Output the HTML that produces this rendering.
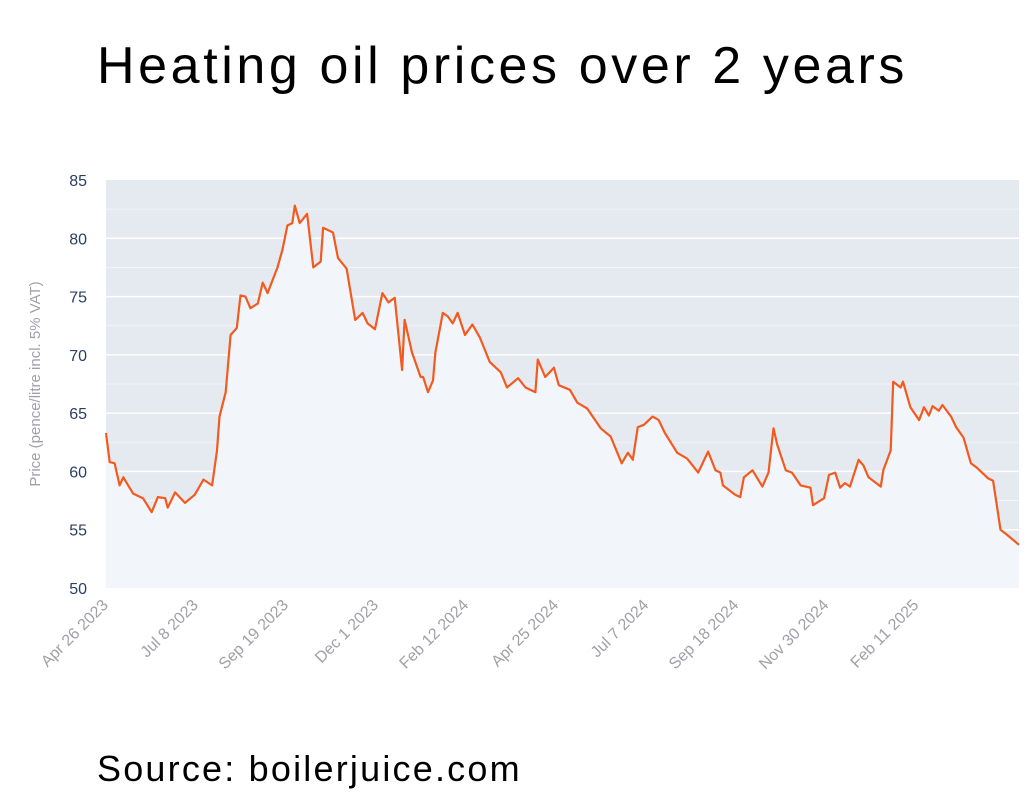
<!DOCTYPE html>
<html><head><meta charset="utf-8"><style>
body{margin:0;background:#fff;width:1029px;height:801px;overflow:hidden;font-family:"Liberation Sans",sans-serif}
#title{position:absolute;left:97px;top:36px;font-size:52px;color:#000;letter-spacing:3.6px;white-space:nowrap}
#source{position:absolute;left:97px;top:748px;font-size:36px;color:#000;letter-spacing:2.2px;white-space:nowrap}
svg{position:absolute;left:0;top:0}
</style></head><body>
<div id="title">Heating oil prices over 2 years</div>
<div id="source">Source: boilerjuice.com</div>
<svg id="chart" width="1029" height="801"></svg>
<script>
const days=[0,3,7,11,14,22,30,37,42,48,50,56,64,72,79,86,90,92,97,101,106,109,113,117,123,127,131,139,143,147,151,153,157,163,168,174,176,184,188,195,202,208,212,218,224,229,234,240,242,248,255,257,261,265,267,273,277,281,285,291,297,303,311,320,325,334,340,348,350,356,363,367,376,382,390,401,409,418,423,427,431,436,443,448,453,463,471,480,488,494,498,500,510,514,517,524,532,537,541,544,551,556,563,571,573,582,586,591,595,599,603,610,614,618,628,630,636,638,644,646,652,659,663,667,670,675,678,685,689,695,701,706,715,719,725,731,740];
const prices=[63.3,60.8,60.7,58.8,59.5,58.1,57.7,56.5,57.8,57.7,56.9,58.2,57.3,58.0,59.3,58.8,61.8,64.7,66.8,71.7,72.3,75.1,75.0,74.0,74.4,76.2,75.3,77.5,79.0,81.1,81.3,82.8,81.3,82.1,77.5,78.0,80.9,80.5,78.3,77.4,73.0,73.6,72.7,72.2,75.3,74.5,74.9,68.7,73.0,70.2,68.1,68.1,66.8,67.8,70.2,73.6,73.3,72.7,73.6,71.7,72.6,71.5,69.4,68.5,67.2,68.0,67.2,66.8,69.6,68.1,68.9,67.4,67.0,65.9,65.4,63.7,63.0,60.7,61.6,61.0,63.8,64.0,64.7,64.4,63.3,61.6,61.1,59.9,61.7,60.1,59.9,58.8,58.0,57.8,59.5,60.1,58.7,59.9,63.7,62.3,60.1,59.9,58.8,58.6,57.1,57.7,59.7,59.9,58.6,59.0,58.7,61.0,60.5,59.5,58.7,60.1,61.8,67.7,67.2,67.7,65.5,64.4,65.5,64.8,65.6,65.2,65.7,64.7,63.8,62.9,60.7,60.3,59.4,59.2,55.0,54.5,53.7];
const yTicks=[50,55,60,65,70,75,80,85];
const xTickDays=[0,73,146,219,292,365,438,511,584,657];
const xTickLabels=["Apr 26 2023","Jul 8 2023","Sep 19 2023","Dec 1 2023","Feb 12 2024","Apr 25 2024","Jul 7 2024","Sep 18 2024","Nov 30 2024","Feb 11 2025"];
const L=106,R=1019,T=180,B=588,D0=0,D1=740,V0=50,V1=85;
const X=d=>L+(d-D0)/(D1-D0)*(R-L);
const Y=v=>B-(v-V0)/(V1-V0)*(B-T);
const svg=document.getElementById('chart');const NS='http://www.w3.org/2000/svg';
function mk(t,a){const e=document.createElementNS(NS,t);for(const k in a)e.setAttribute(k,a[k]);svg.appendChild(e);return e;}
const bg=mk('rect',{x:L,y:T,width:R-L,height:B-T,fill:'#e5e9f0'});


for(let v=V0+2.5;v<V1;v+=2.5){const g=mk('line',{x1:L,x2:R,y1:Y(v),y2:Y(v),stroke:'#fff','stroke-width':(v%5===0)?1.5:0.8,opacity:(v%5===0)?1:0.6});

}
let pts=days.map((d,i)=>X(d).toFixed(1)+','+Y(prices[i]).toFixed(1));
const area=mk('polygon',{points:X(days[0])+','+B+' '+pts.join(' ')+' '+X(days[days.length-1])+','+B,fill:'#f2f6fa'});


const line=mk('polyline',{points:pts.join(' '),fill:'none',stroke:'#f25a1f','stroke-width':2.2,'stroke-linejoin':'round'});


yTicks.forEach(v=>{const t=mk('text',{x:87,y:Y(v)+6,'text-anchor':'end','font-size':16,fill:'#2a3f5f'});t.textContent=v;

});
xTickDays.forEach((d,i)=>{const x=X(d)+3,y=606;const t=mk('text',{x:x,y:y,'text-anchor':'end','font-size':16,fill:'#a0a0a8',transform:`rotate(-45 ${x} ${y})`});t.textContent=xTickLabels[i];

});
const yt=mk('text',{x:40,y:384,'text-anchor':'middle','font-size':15,fill:'#a0a0a8',transform:'rotate(-90 40 384)'});yt.textContent='Price (pence/litre incl. 5% VAT)';


</script>
</body></html>
